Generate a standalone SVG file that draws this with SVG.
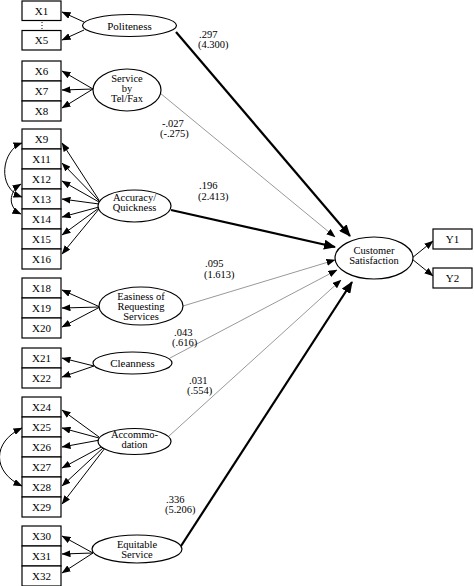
<svg xmlns="http://www.w3.org/2000/svg" width="474" height="586" viewBox="0 0 474 586">
<defs>
<marker id="ah" markerUnits="userSpaceOnUse" markerWidth="9" markerHeight="7" refX="8.5" refY="3.5" orient="auto-start-reverse"><path d="M0,0 L9,3.5 L0,7 z" fill="#000"/></marker>
<marker id="ahb" markerUnits="userSpaceOnUse" markerWidth="12" markerHeight="10" refX="11" refY="5" orient="auto"><path d="M0,0 L12,5 L0,10 z" fill="#000"/></marker>
</defs>
<style>
text{font-family:"Liberation Serif","Times New Roman",serif;font-size:11px;fill:#000}
.b rect{fill:#fff;stroke:#000;stroke-width:1.2}
.b text{text-anchor:middle}
.e ellipse{fill:#fff;stroke:#000;stroke-width:1.2}
.e text{text-anchor:middle;font-size:10.5px}
.a{stroke:#000;stroke-width:1;fill:none;marker-end:url(#ah)}
.g{stroke:#999;stroke-width:1;fill:none;marker-end:url(#ah)}
.t{stroke:#000;stroke-width:2.2;fill:none;marker-end:url(#ahb)}
.c{stroke:#000;stroke-width:1;fill:none;marker-start:url(#ah);marker-end:url(#ah)}
.lab{text-anchor:start;font-size:10.5px}
</style>
<rect width="474" height="586" fill="#fff"/>
<g id="connectors">
<path class="a" d="M84,22 L62,12"/>
<path class="a" d="M84,30 L62,40"/>
<path class="a" d="M93,89 L62,71"/>
<path class="a" d="M93,89 L62,90"/>
<path class="a" d="M93,89 L62,108"/>
<path class="a" d="M99,200 L62,143"/>
<path class="a" d="M99,201 L62,163"/>
<path class="a" d="M99,202 L62,181"/>
<path class="a" d="M99,204 L62,199"/>
<path class="a" d="M99,207 L62,217"/>
<path class="a" d="M99,208 L62,235"/>
<path class="a" d="M99,209 L62,254"/>
<path class="a" d="M100,307 L62,290"/>
<path class="a" d="M100,307 L62,308"/>
<path class="a" d="M100,307 L62,327"/>
<path class="a" d="M94,366 L62,358"/>
<path class="a" d="M94,366 L62,377"/>
<path class="a" d="M99,437 L62,410"/>
<path class="a" d="M99,438 L62,428"/>
<path class="a" d="M100,440 L62,447"/>
<path class="a" d="M103,446 L62,468"/>
<path class="a" d="M104,447 L62,486"/>
<path class="a" d="M105,448 L62,504"/>
<path class="a" d="M93,553 L62,536"/>
<path class="a" d="M93,553 L62,554"/>
<path class="a" d="M93,553 L62,573"/>
<path class="c" d="M22,143 C2,150 -4,188 22,197"/>
<path class="c" d="M21,184 C8,192 8,208 21,214"/>
<path class="c" d="M22,428 C-8,442 -8,472 22,486"/>
<path class="t" d="M176,32 L350,236"/>
<path class="g" d="M160,93 L335,237"/>
<path class="t" d="M171,210 L335,247"/>
<path class="g" d="M183,306 L335,260"/>
<path class="g" d="M170,358 L337,270"/>
<path class="g" d="M169,436 L341,280"/>
<path class="t" d="M181,546 L352,282"/>
<path class="a" d="M412,258 L433,241"/>
<path class="a" d="M412,259 L433,276"/>
</g>
<g id="labels">
<text class="lab" x="199" y="38">.297</text><text class="lab" x="198" y="48">(4.300)</text>
<text class="lab" x="162" y="127">-.027</text><text class="lab" x="160" y="137">(-.275)</text>
<text class="lab" x="199" y="189">.196</text><text class="lab" x="198" y="200">(2.413)</text>
<text class="lab" x="205" y="267">.095</text><text class="lab" x="204" y="278">(1.613)</text>
<text class="lab" x="174" y="336">.043</text><text class="lab" x="172" y="346">(.616)</text>
<text class="lab" x="189" y="384">.031</text><text class="lab" x="187" y="394">(.554)</text>
<text class="lab" x="166" y="503">.336</text><text class="lab" x="165" y="513">(5.206)</text>
</g>
<g id="X1" class="b"><rect x="22" y="1" width="39" height="19.5"/><text x="41.5" y="15">X1</text></g>
<path d="M42,22 V29" stroke="#000" stroke-width="1" stroke-dasharray="1,2"/>
<g id="X5" class="b"><rect x="22" y="30.5" width="39" height="19.5"/><text x="41.5" y="44">X5</text></g>
<g id="X6" class="b"><rect x="22" y="61" width="39" height="20"/><text x="41.5" y="75">X6</text></g>
<g id="X7" class="b"><rect x="22" y="81" width="39" height="20"/><text x="41.5" y="95">X7</text></g>
<g id="X8" class="b"><rect x="22" y="101" width="39" height="20"/><text x="41.5" y="115">X8</text></g>
<g id="X9" class="b"><rect x="22" y="129" width="39" height="20"/><text x="41.5" y="143">X9</text></g>
<g id="X11" class="b"><rect x="22" y="149" width="39" height="20"/><text x="41.5" y="163">X11</text></g>
<g id="X12" class="b"><rect x="22" y="169" width="39" height="20"/><text x="41.5" y="183">X12</text></g>
<g id="X13" class="b"><rect x="22" y="189" width="39" height="20"/><text x="41.5" y="203">X13</text></g>
<g id="X14" class="b"><rect x="22" y="209" width="39" height="20"/><text x="41.5" y="223">X14</text></g>
<g id="X15" class="b"><rect x="22" y="229" width="39" height="20"/><text x="41.5" y="243">X15</text></g>
<g id="X16" class="b"><rect x="22" y="249" width="39" height="20"/><text x="41.5" y="263">X16</text></g>
<g id="X18" class="b"><rect x="22" y="278" width="39" height="20"/><text x="41.5" y="292">X18</text></g>
<g id="X19" class="b"><rect x="22" y="298" width="39" height="20"/><text x="41.5" y="312">X19</text></g>
<g id="X20" class="b"><rect x="22" y="318" width="39" height="20"/><text x="41.5" y="332">X20</text></g>
<g id="X21" class="b"><rect x="22" y="348" width="39" height="20"/><text x="41.5" y="362">X21</text></g>
<g id="X22" class="b"><rect x="22" y="368" width="39" height="20"/><text x="41.5" y="382">X22</text></g>
<g id="X24" class="b"><rect x="22" y="397" width="39" height="20"/><text x="41.5" y="411">X24</text></g>
<g id="X25" class="b"><rect x="22" y="417" width="39" height="20"/><text x="41.5" y="431">X25</text></g>
<g id="X26" class="b"><rect x="22" y="437" width="39" height="20"/><text x="41.5" y="451">X26</text></g>
<g id="X27" class="b"><rect x="22" y="457" width="39" height="20"/><text x="41.5" y="471">X27</text></g>
<g id="X28" class="b"><rect x="22" y="477" width="39" height="20"/><text x="41.5" y="491">X28</text></g>
<g id="X29" class="b"><rect x="22" y="497" width="39" height="20"/><text x="41.5" y="511">X29</text></g>
<g id="X30" class="b"><rect x="22" y="526" width="39" height="20"/><text x="41.5" y="540">X30</text></g>
<g id="X31" class="b"><rect x="22" y="546" width="39" height="20"/><text x="41.5" y="560">X31</text></g>
<g id="X32" class="b"><rect x="22" y="566" width="39" height="20"/><text x="41.5" y="580">X32</text></g>
<g id="Y1" class="b"><rect x="433" y="229" width="39" height="20"/><text x="452.5" y="243">Y1</text></g>
<g id="Y2" class="b"><rect x="433" y="268" width="39" height="20"/><text x="452.5" y="282">Y2</text></g>
<g id="politeness" class="e"><ellipse cx="129.5" cy="25.5" rx="47" ry="11"/><text x="129.5" y="29.5" style="font-size:11px">Politeness</text></g>
<g id="service-tel-fax" class="e"><ellipse cx="127" cy="90" rx="34" ry="21"/><text x="127" y="82">Service</text><text x="127" y="92">by</text><text x="127" y="102">Tel/Fax</text></g>
<g id="accuracy-quickness" class="e"><ellipse cx="134.5" cy="206" rx="36.5" ry="16"/><text x="134.5" y="201">Accuracy/</text><text x="134.5" y="211">Quickness</text></g>
<g id="easiness" class="e"><ellipse cx="141" cy="306" rx="42" ry="19"/><text x="141" y="300">Easiness of</text><text x="141" y="310">Requesting</text><text x="141" y="320">Services</text></g>
<g id="cleanness" class="e"><ellipse cx="132.5" cy="363" rx="39.5" ry="11"/><text x="132.5" y="367" style="font-size:11px">Cleanness</text></g>
<g id="accommodation" class="e"><ellipse cx="134.5" cy="441.5" rx="36.5" ry="13"/><text x="134.5" y="438">Accommo-</text><text x="134.5" y="448">dation</text></g>
<g id="equitable-service" class="e"><ellipse cx="137" cy="549" rx="45" ry="14"/><text x="137" y="548">Equitable</text><text x="137" y="558">Service</text></g>
<g id="customer-satisfaction" class="e"><ellipse cx="374" cy="258" rx="39" ry="21"/><text x="374" y="254">Customer</text><text x="374" y="264">Satisfaction</text></g>
</svg>
